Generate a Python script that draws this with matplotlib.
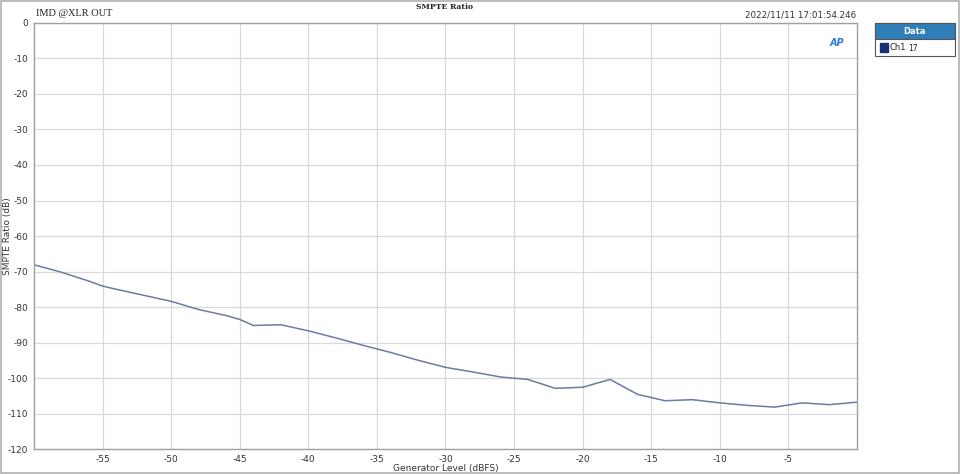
import matplotlib.pyplot as plt
from matplotlib.patches import Rectangle

# SMPTE IMD ratio vs generator level
level_dbfs = [-60, -58, -56, -55, -54, -52, -50, -48, -46, -45, -44, -42, -40, -38,
              -36, -34, -32, -30, -28, -26, -24, -22, -20, -18, -16, -14, -12, -10,
              -8, -6, -4, -2, 0]
smpte_db = [-68.1, -70.2, -72.7, -74.1, -75.0, -76.7, -78.4, -80.7, -82.4, -83.5, -85.2,
            -85.0, -86.7, -88.7, -90.8, -92.8, -95.0, -97.0, -98.3, -99.7, -100.4,
            -102.9, -102.6, -100.4, -104.6, -106.4, -106.1, -107.0, -107.7, -108.2,
            -107.0, -107.5, -106.8]
x_ticks = [-55, -50, -45, -40, -35, -30, -25, -20, -15, -10, -5]
y_ticks = list(range(-120, 1, 10))


def main():
    plt.rcParams["axes.unicode_minus"] = False
    fig = plt.figure(figsize=(9.6, 4.74), dpi=100)
    ax = fig.add_axes([0.0354, 0.0527, 0.8573, 0.8988])

    ax.plot(level_dbfs, smpte_db, color="#6b7ba3", lw=1.1)

    ax.set_xlim(-60, 0)
    ax.set_ylim(-120, 0)
    ax.set_xticks(x_ticks)
    ax.set_yticks(y_ticks)
    ax.grid(True, color="#d9d9d9", lw=0.9)
    ax.tick_params(length=0, labelsize=6.5, colors="#333333", pad=4)
    for s in ax.spines.values():
        s.set_color("#a0a0a0")
        s.set_linewidth(1.0)

    ax.set_xlabel("Generator Level (dBFS)", fontsize=6.5, color="#333333", labelpad=2)
    ax.xaxis.set_label_coords(0.5, -0.035)
    ax.set_ylabel("SMPTE Ratio (dB)", fontsize=6.5, color="#333333")
    ax.yaxis.set_label_coords(-0.027, 0.5)

    fig.text(0.463, 0.993, "SMPTE Ratio", ha="center", va="top", fontsize=5.5,
             family="DejaVu Serif", weight="bold", color="#222222")
    fig.text(0.037, 0.963, "IMD @XLR OUT", ha="left", va="bottom", fontsize=7.5,
             family="Liberation Serif", color="#222222")
    fig.text(0.892, 0.958, "2022/11/11 17:01:54.246", ha="right", va="bottom",
             fontsize=6.3, color="#333333")
    ax.text(0.985, 0.965, "AP", transform=ax.transAxes, ha="right", va="top",
            fontsize=7, style="italic", weight="bold", color="#2f7fd0")

    # legend box on the right
    fig.patches.append(Rectangle((0.9115, 0.882), 0.083, 0.069, transform=fig.transFigure,
                                 facecolor="white", edgecolor="#555555", lw=0.8))
    fig.patches.append(Rectangle((0.9115, 0.917), 0.083, 0.034, transform=fig.transFigure,
                                 facecolor="#2f7db9", edgecolor="#555555", lw=0.8))
    fig.text(0.953, 0.934, "Data", ha="center", va="center", fontsize=6,
             weight="bold", color="white")
    fig.patches.append(Rectangle((0.9165, 0.891), 0.0085, 0.018, transform=fig.transFigure,
                                 facecolor="#1c2f7a", edgecolor="#1c2f7a"))
    fig.text(0.927, 0.9, "Ch1", ha="left", va="center", fontsize=6, color="#222222")
    fig.text(0.946, 0.897, "17", ha="left", va="center", fontsize=5.5, color="#222222")

    # outer frame of the image
    fig.patches.append(Rectangle((0.001, 0.002), 0.998, 0.996, transform=fig.transFigure,
                                 facecolor="none", edgecolor="#b0b0b0", lw=1.2))

    fig.savefig("out.png", dpi=100)


if __name__ == "__main__":
    main()
